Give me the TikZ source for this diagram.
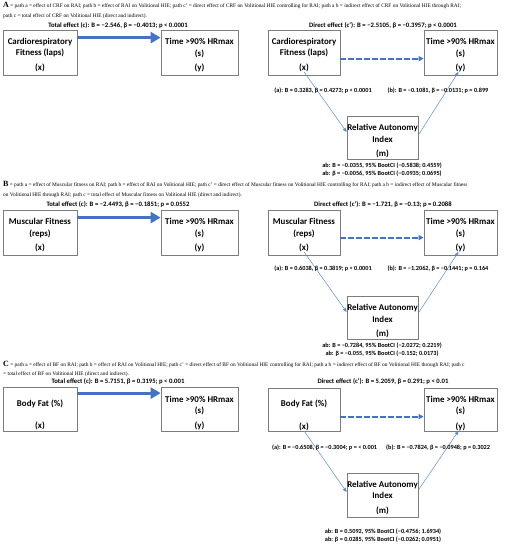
\documentclass[tikz,border=0pt]{standalone}
\usepackage{fontspec}
\setmainfont{Carlito}
\newfontfamily\capfont{Liberation Serif}
\usetikzlibrary{arrows.meta,calc}
\definecolor{arrblue}{RGB}{68,114,196}
\definecolor{lineblue}{RGB}{95,140,215}
\definecolor{boxgray}{RGB}{125,125,125}
\begin{document}
\begin{tikzpicture}[x=1pt,y=-1pt,
  box/.style={draw=boxgray,line width=0.8pt,inner sep=0pt,minimum width=#1,minimum height=45pt},
  box/.default=74pt,
  btxt/.style={font=\bfseries\fontsize{8.9}{10}\selectfont,inner sep=0pt,anchor=base,yshift=-2.3pt},
  eff/.style={font=\bfseries\fontsize{6.7}{7.5}\selectfont,inner sep=0pt},
  sml/.style={font=\bfseries\fontsize{6.25}{7}\selectfont,inner sep=0pt},
  captxt/.style={font=\capfont\fontsize{5.37}{6}\selectfont,inner sep=0pt,anchor=base west},
  bigarrow/.style={draw=arrblue,line width=3pt,-{Triangle[length=10pt,width=11pt]}},
  dasharrow/.style={draw=arrblue,line width=2pt,dash pattern=on 5.5pt off 2.5pt,-{Triangle[length=5pt,width=5pt]}},
  thinarrow/.style={draw=lineblue,line width=0.5pt,-{Triangle[length=4pt,width=3.5pt]}}]
\fill[white] (0,0) rectangle (505,550);
\useasboundingbox (0,0) rectangle (505,550);
\newcommand{\Blet}[1]{{\fontsize{8}{8}\selectfont\textbf{#1}}}
% ================= Panel A =================
\node[captxt] (capA1) at (3,7.5) {\Blet{A} = path a = effect of CRF on RAI; path b = effect of RAI on Volitional HIE; path c’ = direct effect of CRF on Volitional HIE controlling for RAI; path a b = indirect effect of CRF on Volitional HIE through RAI;};
\node[captxt] (capA2) at (3,17) {path c = total effect of CRF on Volitional HIE (direct and indirect).};
\node[eff] (totA) at (118,26) {Total effect (c): B = −2.546, β = −0.4013; p < 0.0001};
\node[box] (LXA) at (40,52.5) {};
\node[btxt] (LXA1) at (40,42) {Cardiorespiratory};
\node[btxt] (LXA2) at (40,53.5) {Fitness (laps)};
\node[btxt] (LXA3) at (40,68) {(x)};
\node[box=77pt] (LYA) at (199.5,52.5) {};
\node[btxt] (LYA1) at (199.5,42) {Time >90\% HRmax};
\node[btxt] (LYA2) at (199.5,54) {(s)};
\node[btxt] (LYA3) at (199.5,68) {(y)};
\draw[bigarrow] ($(LXA.north east)+(0,8)$) -- ($(LYA.north west)+(0,8)$);
\node[eff] (dirA) at (383,26) {Direct effect (c’): B = −2.5105, β = −0.3957; p < 0.0001};
\node[box=72pt] (RXA) at (304,52.5) {};
\node[btxt] (RXA1) at (304,42) {Cardiorespiratory};
\node[btxt] (RXA2) at (304,53.5) {Fitness (laps)};
\node[btxt] (RXA3) at (304,68) {(x)};
\node[box=73pt] (RYA) at (460.5,52.5) {};
\node[btxt] (RYA1) at (460.5,42) {Time >90\% HRmax};
\node[btxt] (RYA2) at (460.5,54) {(s)};
\node[btxt] (RYA3) at (460.5,68) {(y)};
\draw[dasharrow] ($(RXA.north east)+(0,29)$) -- ($(RYA.north west)+(0,29)$);
\node[box=71pt,minimum height=43pt] (MA) at (382.5,137.5) {};
\node[btxt] (MA1) at (382.5,128) {Relative Autonomy};
\node[btxt] (MA2) at (382.5,140) {Index};
\node[btxt] (MA3) at (382.5,154) {(m)};
\draw[thinarrow] (RXA3.south) -- ($(MA.west)+(0,-5.5)$);
\draw[thinarrow] ($(MA.east)+(0,-2.5)$) -- ($(RYA3.south)+(-2,0)$);
\node[sml] (aA) at (323,91) {(a): B = 0.3283, β = 0.4273; p < 0.0001};
\node[sml] (bA) at (438,91) {(b): B = −0.1081, β = −0.0131; p = 0.899};
\node[sml] (abA1) at (382,166) {ab: B = −0.0355, 95\% BootCI (−0.5838; 0.4559)};
\node[sml] (abA2) at (382,174) {ab: β = −0.0056, 95\% BootCI (−0.0935; 0.0695)};
% ================= Panel B =================
\node[captxt] (capB1) at (3,186.8) {\Blet{B} = path a = effect of Muscular fitness on RAI; path b = effect of RAI on Volitional HIE; path c’ = direct effect of Muscular fitness on Volitional HIE controlling for RAI; path a b = indirect effect of Muscular fitness};
\node[captxt] (capB2) at (3,196) {on Volitional HIE through RAI; path c = total effect of Muscular fitness on Volitional HIE (direct and indirect).};
\node[eff] (totB) at (118,205) {Total effect (c): B = −2.4493, β = −0.1851; p = 0.0552};
\node[box] (LXB) at (40,232.5) {};
\node[btxt] (LXB1) at (40,222) {Muscular Fitness};
\node[btxt] (LXB2) at (40,234) {(reps)};
\node[btxt] (LXB3) at (40,248) {(x)};
\node[box=77pt] (LYB) at (199.5,232.5) {};
\node[btxt] (LYB1) at (199.5,222) {Time >90\% HRmax};
\node[btxt] (LYB2) at (199.5,234) {(s)};
\node[btxt] (LYB3) at (199.5,248) {(y)};
\draw[bigarrow] ($(LXB.north east)+(0,8)$) -- ($(LYB.north west)+(0,8)$);
\node[eff] (dirB) at (383,205) {Direct effect (c’): B = −1.721, β = −0.13; p = 0.2088};
\node[box=72pt] (RXB) at (304,232.5) {};
\node[btxt] (RXB1) at (304,222) {Muscular Fitness};
\node[btxt] (RXB2) at (304,234) {(reps)};
\node[btxt] (RXB3) at (304,248) {(x)};
\node[box=73pt] (RYB) at (460.5,232.5) {};
\node[btxt] (RYB1) at (460.5,222) {Time >90\% HRmax};
\node[btxt] (RYB2) at (460.5,234) {(s)};
\node[btxt] (RYB3) at (460.5,248) {(y)};
\draw[dasharrow] ($(RXB.north east)+(0,28)$) -- ($(RYB.north west)+(0,28)$);
\node[box=71pt,minimum height=43pt] (MB) at (382.5,317.5) {};
\node[btxt] (MB1) at (382.5,308) {Relative Autonomy};
\node[btxt] (MB2) at (382.5,320) {Index};
\node[btxt] (MB3) at (382.5,334) {(m)};
\draw[thinarrow] (RXB3.south) -- ($(MB.west)+(0,-5.5)$);
\draw[thinarrow] ($(MB.east)+(0,-4.5)$) -- ($(RYB3.south)+(-2,0)$);
\node[sml] (aB) at (323,269) {(a): B = 0.6038, β = 0.3819; p < 0.0001};
\node[sml] (bB) at (438,269) {(b): B = −1.2062, β = −0.1441; p = 0.164};
\node[sml] (abB1) at (382,346) {ab: B = −0.7284, 95\% BootCI (−2.0272; 0.2219)};
\node[sml] (abB2) at (382,354) {ab: β = −0.055, 95\% BootCI (−0.152; 0.0173)};
% ================= Panel C =================
\node[captxt] (capC1) at (3,366.7) {\Blet{C} = path a = effect of BF on RAI; path b = effect of RAI on Volitional HIE; path c’ = direct effect of BF on Volitional HIE controlling for RAI; path a b = indirect effect of BF on Volitional HIE through RAI; path c};
\node[captxt] (capC2) at (3,375) {= total effect of BF on Volitional HIE (direct and indirect).};
\node[eff] (totC) at (118,381.5) {Total effect (c): B = 5.7151, β = 0.3195; p < 0.001};
\node[box,minimum height=44pt] (LXC) at (40,409) {};
\node[btxt] (LXC1) at (40,404) {Body Fat (\%)};
\node[btxt] (LXC3) at (40,426.5) {(x)};
\node[box=77pt,minimum height=44pt] (LYC) at (199.5,409) {};
\node[btxt] (LYC1) at (199.5,400) {Time >90\% HRmax};
\node[btxt] (LYC2) at (199.5,411) {(s)};
\node[btxt] (LYC3) at (199.5,426) {(y)};
\draw[bigarrow] ($(LXC.north east)+(0,6.5)$) -- ($(LYC.north west)+(0,6.5)$);
\node[eff] (dirC) at (383,382) {Direct effect (c’): B = 5.2059, β = 0.291; p < 0.01};
\node[box=72pt,minimum height=43pt] (RXC) at (304,409.5) {};
\node[btxt] (RXC1) at (304,404) {Body Fat (\%)};
\node[btxt] (RXC3) at (304,427) {(x)};
\node[box=73pt,minimum height=43pt] (RYC) at (460.5,409.5) {};
\node[btxt] (RYC1) at (460.5,400) {Time >90\% HRmax};
\node[btxt] (RYC2) at (460.5,411) {(s)};
\node[btxt] (RYC3) at (460.5,427) {(y)};
\draw[dasharrow] ($(RXC.north east)+(0,29)$) -- ($(RYC.north west)+(0,29)$);
\node[box=71pt,minimum height=44pt] (MC) at (382.5,495) {};
\node[btxt] (MC1) at (382.5,485) {Relative Autonomy};
\node[btxt] (MC2) at (382.5,496.5) {Index};
\node[btxt] (MC3) at (382.5,511) {(m)};
\draw[thinarrow] (RXC3.south) -- ($(MC.west)+(0,-3)$);
\draw[thinarrow] ($(MC.east)+(0,-5)$) -- ($(RYC3.south)+(-2,0)$);
\node[sml,anchor=west] (aC) at (272,448) {(a): B = −0.6508, β = −0.3004; p = < 0.001};
\node[sml,anchor=west] (bC) at (386,448) {(b): B = −0.7824, β = −0.0948; p = 0.3022};
\node[sml] (abC1) at (383,532) {ab: B = 0.5092, 95\% BootCI (−0.4756; 1.6934)};
\node[sml] (abC2) at (383,540) {ab: β = 0.0285, 95\% BootCI (−0.0262; 0.0951)};
\end{tikzpicture}
\end{document}
